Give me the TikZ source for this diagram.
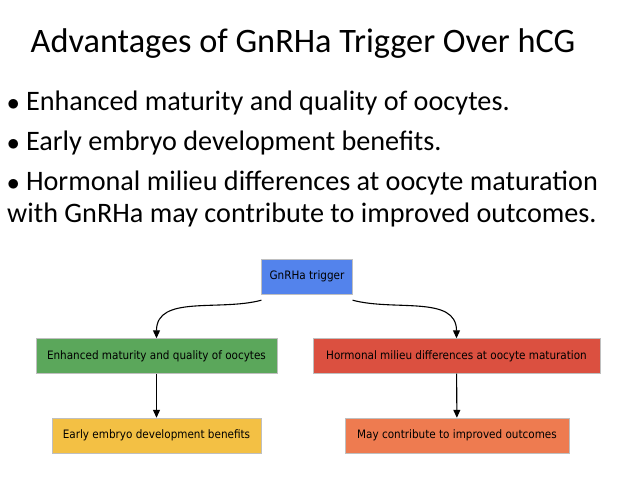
\documentclass[tikz,border=0pt]{standalone}
\usepackage{fontspec}
\setmainfont{Carlito}
\newfontfamily\boxfont{DejaVu Sans Condensed}
\usetikzlibrary{arrows.meta}
\definecolor{trigblue}{HTML}{5383EC}
\definecolor{matgreen}{HTML}{5BA75B}
\definecolor{milred}{HTML}{DB5040}
\definecolor{embyellow}{HTML}{F3C044}
\definecolor{outorange}{HTML}{EE7B50}
\tikzset{
  box/.style={draw=black!25, line width=0.4pt, minimum height=35pt, inner xsep=8pt,
              font=\boxfont\fontsize{11.6}{13}\selectfont, text=black},
  link/.style={-{Triangle[length=8pt,width=7pt]}, line width=1.1pt}
}
\begin{document}
\begin{tikzpicture}[x=1pt, y=-1pt]
    \useasboundingbox (0,0) rectangle (638,478);

    % 1. Title and bullet text
    \node (title) at (303,44) {\fontsize{34.3}{40}\selectfont Advantages of GnRHa Trigger Over hCG};
    \node[anchor=west, inner sep=0pt] (b1) at (7,103) {\fontsize{28.2}{33}\selectfont $\bullet$ Enhanced maturity and quality of oocytes.};
    \node[anchor=west, inner sep=0pt] (b2) at (7,143) {\fontsize{28.2}{33}\selectfont $\bullet$ Early embryo development benefits.};
    \node[anchor=west, inner sep=0pt] (b3) at (7,183) {\fontsize{28.2}{33}\selectfont $\bullet$ Hormonal milieu differences at oocyte maturation};
    \node[anchor=west, inner sep=0pt] (b4) at (7,215) {\fontsize{28.2}{33}\selectfont with GnRHa may contribute to improved outcomes.};

    % 2. Boxes
    \node[box, fill=trigblue, minimum width=90pt] (trig) at (307,276.5) {GnRHa trigger};
    \node[box, fill=matgreen, minimum width=241pt] (mat) at (156.5,356) {Enhanced maturity and quality of oocytes};
    \node[box, fill=milred, minimum width=287pt] (mil) at (456.5,356) {Hormonal milieu differences at oocyte maturation};
    \node[box, fill=embyellow, minimum width=209pt] (emb) at (156.5,435.5) {Early embryo development benefits};
    \node[box, fill=outorange, minimum width=224pt] (out) at (457,435.5) {May contribute to improved outcomes};

    % 3. Connectors
    \draw[link] (trig.south west) ++(0,6) coordinate (tl) (tl) to[out=195, in=90] (mat.north);
    \draw[link] (trig.south east) ++(0,6) coordinate (tr) (tr) to[out=-15, in=90] (mil.north);
    \draw[link] (mat) -- (emb);
    \draw[link] (mil) -- (out);
\end{tikzpicture}
\end{document}
